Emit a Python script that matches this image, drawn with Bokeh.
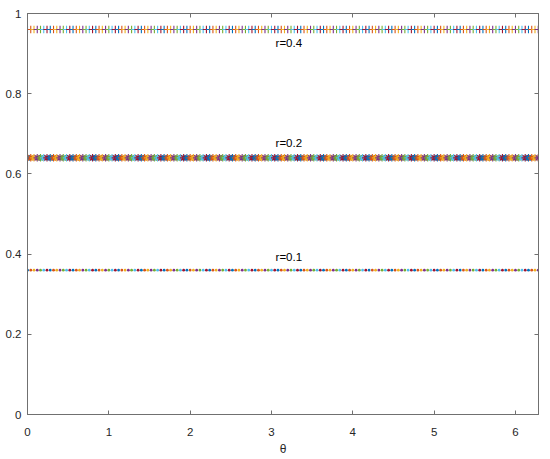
import numpy as np
from bokeh.plotting import figure
from bokeh.models import LinearAxis, FixedTicker, Range1d, ColumnDataSource, Label
from bokeh.embed import file_html
from bokeh.resources import INLINE

# ---- data ----
theta_step = 0.04
theta = np.arange(0, 2 * np.pi, theta_step)
row_values = [0.36, 0.64, 0.96]
row_markers = ["circle", "asterisk", "cross"]
row_labels = ["r=0.1", "r=0.2", "r=0.4"]
label_x = [3.05, 3.05, 3.05]
label_y = [0.393, 0.676, 0.927]
x_ticks = [0, 1, 2, 3, 4, 5, 6]
y_ticks = [0, 0.2, 0.4, 0.6, 0.8, 1]
y_tick_labels = ["0", "0.2", "0.4", "0.6", "0.8", "1"]
palette = ["#0072BD", "#D95319", "#EDB120", "#7E2F8E", "#77AC30", "#4DBEEE", "#A2142F"]

FONT = "Liberation Sans"
AX = "#707070"
TXT = "#262626"

p = figure(width=545, height=458, output_backend="svg", toolbar_location=None,
           x_range=Range1d(0, 2 * np.pi), y_range=Range1d(0, 1),
           min_border_left=27, min_border_right=7, min_border_top=13, min_border_bottom=44,
           x_axis_location=None, y_axis_location=None)
p.grid.visible = False
p.outline_line_color = AX
p.outline_line_width = 1
p.background_fill_color = "white"
p.border_fill_color = "white"


def make_axis(ticks, show_labels, label=None):
    ax = LinearAxis(ticker=FixedTicker(ticks=ticks))
    ax.axis_line_color = AX
    ax.major_tick_line_color = AX
    ax.major_tick_in = 4
    ax.major_tick_out = 0
    ax.minor_tick_line_color = None
    ax.major_label_text_font = FONT
    ax.major_label_text_font_size = "11.5px"
    ax.major_label_text_color = TXT
    if not show_labels:
        ax.major_label_overrides = {t: "" for t in ticks}
        ax.major_label_standoff = 0
    if label:
        ax.axis_label = label
        ax.axis_label_text_font = FONT
        ax.axis_label_text_font_size = "12px"
        ax.axis_label_text_font_style = "normal"
        ax.axis_label_text_color = TXT
        ax.axis_label_standoff = 3
    return ax


xb = make_axis(x_ticks, True, "θ")
xb.major_label_standoff = 13
p.add_layout(xb, "below")

yl = make_axis(y_ticks, True)
yl.major_label_overrides = {t: s for t, s in zip(y_ticks, y_tick_labels)}
yl.major_label_standoff = 6
p.add_layout(yl, "left")

p.add_layout(make_axis(x_ticks, False), "above")
p.add_layout(make_axis(y_ticks, False), "right")

for val, mk in zip(row_values, row_markers):
    cols = [palette[i % len(palette)] for i in range(len(theta))]
    src = ColumnDataSource(dict(x=theta, y=np.full(len(theta), val), c=cols))
    if mk == "circle":
        p.scatter("x", "y", source=src, marker="circle", size=2.8,
                  fill_color="c", line_color=None)
    else:
        p.scatter("x", "y", source=src, marker=mk, size=7.5,
                  line_color="c", line_width=1.1)

for t, lx, ly in zip(row_labels, label_x, label_y):
    p.add_layout(Label(x=lx, y=ly, text=t, text_font=FONT, text_font_size="11.5px",
                       text_color="black", text_align="left", text_baseline="middle"))

open("out.html", "w").write(file_html(p, INLINE))
